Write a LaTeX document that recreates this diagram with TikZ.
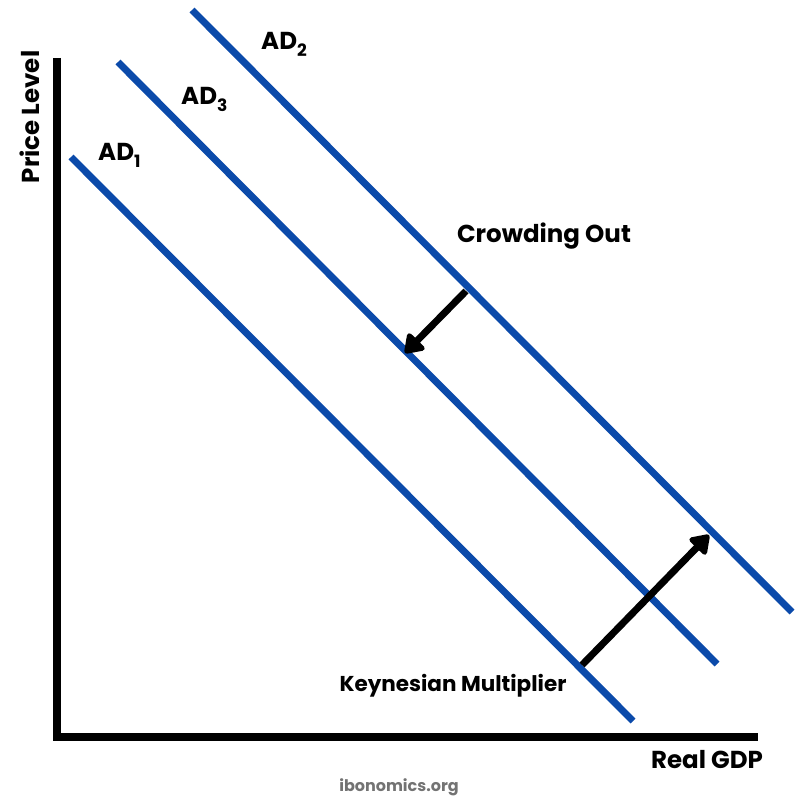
\documentclass[tikz,border=0pt]{standalone}
\usepackage{fontspec}
\setmainfont{Poppins}
\usetikzlibrary{arrows.meta}
\definecolor{adblue}{HTML}{0B4AAA}
\newcommand{\adsub}[1]{\raisebox{-7pt}{\fontsize{17}{20}\selectfont #1}}
\begin{document}
\begin{tikzpicture}[x=1pt,y=-1pt,
  adline/.style={draw=adblue,line width=7pt},
  axis/.style={draw=black,line width=8pt},
  shiftarrow/.style={draw=black,line width=7pt,-{Triangle[length=20pt,width=26pt,round]}},
  lbl/.style={font=\bfseries\fontsize{24.5}{28}\selectfont,inner sep=0pt},
  small/.style={font=\bfseries\fontsize{21.5}{25}\selectfont,inner sep=0pt}]
\useasboundingbox (0,0) rectangle (800,800);
% axes
\coordinate (ytop) at (57,58);
\coordinate (origin) at (57,737);
\coordinate (xend) at (758,737);
\draw[axis] (ytop) -- (origin) -- (xend);
% AD curves
\coordinate (a1s) at (71,157); \coordinate (a1e) at (633,721);
\coordinate (a3s) at (118,62); \coordinate (a3e) at (717,664);
\coordinate (a2s) at (192,10); \coordinate (a2e) at (792,612);
\draw[adline] (a1s) -- (a1e);
\draw[adline] (a3s) -- (a3e);
\draw[adline] (a2s) -- (a2e);
% arrows
\coordinate (cos) at (466,291); \coordinate (coe) at (405,353);
\coordinate (kms) at (582,665); \coordinate (kme) at (709,535);
\draw[shiftarrow] (cos) -- (coe);
\draw[shiftarrow] (kms) -- (kme);
% labels
\node[lbl,anchor=base west] (l2) at (261,49) {AD\adsub{2}};
\node[lbl,anchor=base west] (l3) at (181,104) {AD\adsub{3}};
\node[lbl,anchor=base west] (l1) at (98,160) {AD\adsub{1}};
\node[lbl,anchor=base] (co) at (544,242) {Crowding Out};
\node[small,anchor=base] (km) at (453,691) {Keynesian Multiplier};
\node[lbl,anchor=base] (gdp) at (707,768) {Real GDP};
\node[lbl,anchor=base,rotate=90] (pl) at (39,117) {Price Level};
\node[font=\bfseries\fontsize{16}{18}\selectfont,text=black!55,anchor=base] (web) at (399,791) {ibonomics.org};
\end{tikzpicture}
\end{document}
